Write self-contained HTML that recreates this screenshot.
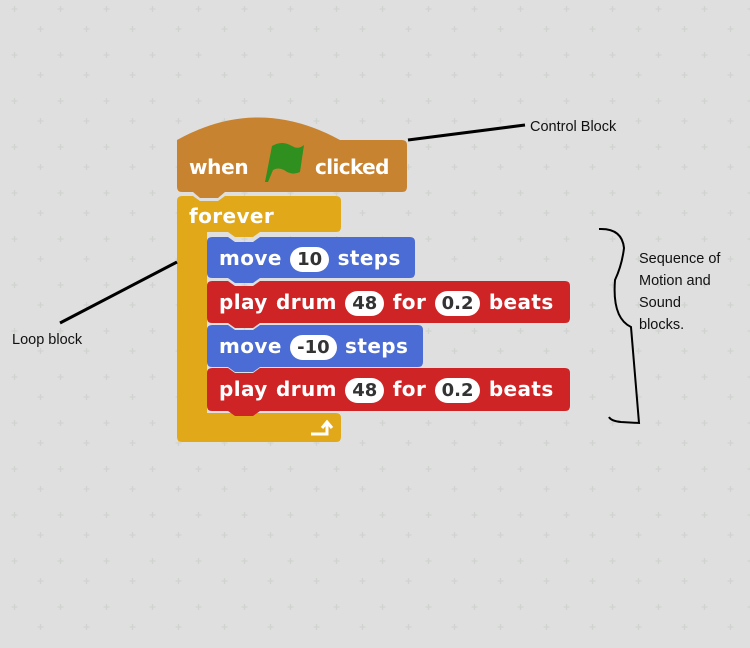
<!DOCTYPE html>
<html><head><style>
body{margin:0;width:750px;height:648px;background:#dedfde;overflow:hidden;position:relative;font-family:"Liberation Sans",sans-serif}
.t{position:absolute;font-weight:bold;color:#fff;font-size:20px;font-family:"DejaVu Sans","Liberation Sans",sans-serif;letter-spacing:0.4px;word-spacing:1px;white-space:nowrap}
.p{display:inline-block;background:#fff;color:#333;border-radius:13px;padding:0 7px;line-height:25px;font-size:18px;letter-spacing:0}
.l{position:absolute;font-size:14.5px;color:#111;line-height:22px}
</style></head><body>
<svg width="750" height="648" style="position:absolute;left:0;top:0">
<defs><pattern id="d" width="46" height="46" patternUnits="userSpaceOnUse" x="0" y="0"><path d="M11.5 9h6M14.5 6v6M37.5 29h6M40.5 26v6" stroke="#d1d3d1" stroke-width="1.3"/></pattern></defs>
<rect width="750" height="648" fill="url(#d)"/>
<path d="M177 140 Q258 95 340 140 L402 140 Q407 140 407 145 L407 187 Q407 192 402 192 L225 192 L218 198 L200 198 L193 192 L182 192 Q177 192 177 187Z" fill="#c88330"/>
<path d="M182 196 L193 196 L200 201 L218 201 L225 196 L336 196 Q341 196 341 201 L341 227 Q341 232 336 232 L260 232 L253 237 L235 237 L228 232 L207 232 L207 413 L336 413 Q341 413 341 418 L341 437 Q341 442 336 442 L182 442 Q177 442 177 437 L177 201 Q177 196 182 196Z" fill="#e1a91a"/>
<path d="M212 237 L228 237 L235 242 L253 242 L260 237 L410 237 Q415 237 415 242 L415 273 Q415 278 410 278 L260 278 L253 283 L235 283 L228 278 L212 278 Q207 278 207 273 L207 242 Q207 237 212 237Z" fill="#4a6cd4"/>
<path d="M212 281 L228 281 L235 286 L253 286 L260 281 L565 281 Q570 281 570 286 L570 318 Q570 323 565 323 L260 323 L253 328 L235 328 L228 323 L212 323 Q207 323 207 318 L207 286 Q207 281 212 281Z" fill="#cf2426"/>
<path d="M212 325 L228 325 L235 330 L253 330 L260 325 L418 325 Q423 325 423 330 L423 362 Q423 367 418 367 L260 367 L253 372 L235 372 L228 367 L212 367 Q207 367 207 362 L207 330 Q207 325 212 325Z" fill="#4a6cd4"/>
<path d="M212 368 L228 368 L235 373 L253 373 L260 368 L565 368 Q570 368 570 373 L570 406 Q570 411 565 411 L260 411 L253 416 L235 416 L228 411 L212 411 Q207 411 207 406 L207 373 Q207 368 212 368Z" fill="#cf2426"/>
<path d="M265 182 L272 146 Q282 140 292 146 Q298 150 304 145 L300 172 Q292 176 284 170 Q278 167 273 170 L268 182Z" fill="#2f8f1f"/>
<path d="M311 434 L327 434 L327 424 M322 428 L327 422 L332 428" stroke="#fff" stroke-width="3" fill="none"/>
<path d="M408 140 L525 125" stroke="#000" stroke-width="3"/>
<path d="M60 323 L177 262" stroke="#000" stroke-width="3"/>
<path d="M599 229 Q622 228 624 248 Q622 265 615 280 Q612 318 631 327 L639 423 L621 422 Q611 421 609 417" stroke="#000" stroke-width="2" fill="none"/>
</svg>
<div class="t" style="left:189px;top:155px;letter-spacing:-0.3px">when</div>
<div class="t" style="left:315px;top:155px;letter-spacing:-0.6px">clicked</div>
<div class="t" style="left:189px;top:204px">forever</div>
<div class="t" style="left:219px;top:246px">move <span class="p">10</span> steps</div>
<div class="t" style="left:219px;top:290px">play drum <span class="p">48</span> for <span class="p">0.2</span> beats</div>
<div class="t" style="left:219px;top:334px">move <span class="p">-10</span> steps</div>
<div class="t" style="left:219px;top:377px">play drum <span class="p">48</span> for <span class="p">0.2</span> beats</div>
<div class="l" style="left:530px;top:116px">Control Block</div>
<div class="l" style="left:12px;top:329px">Loop block</div>
<div class="l" style="left:639px;top:248px">Sequence of<br>Motion and<br>Sound<br>blocks.</div>
</body></html>
